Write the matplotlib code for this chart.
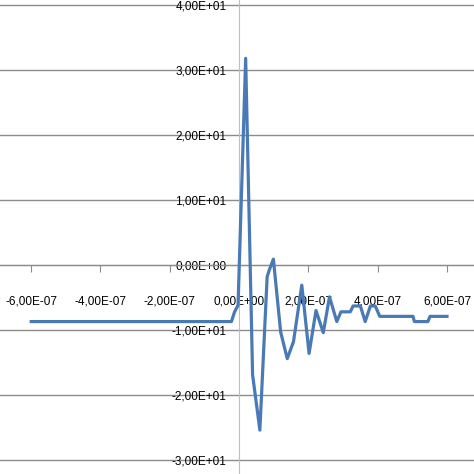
import matplotlib
matplotlib.use("Agg")
import matplotlib.pyplot as plt

t = [-6.0, -0.22, -0.13, -0.03, 0.19, 0.39, 0.60, 0.81, 0.87, 0.99, 1.20, 1.39, 1.57, 1.81,
     2.02, 2.22, 2.43, 2.61, 2.82, 2.94, 3.21, 3.29, 3.50, 3.64, 3.79, 3.93, 4.06, 5.02,
     5.06, 5.45, 5.51, 6.0]
v = [-8.7, -8.7, -7.2, -6.2, 31.8, -16.9, -25.4, -1.8, -0.8, 0.9, -10.3, -14.4, -11.8, -3.1,
     -13.6, -7.0, -10.4, -4.9, -8.7, -7.2, -7.2, -6.3, -6.3, -8.7, -6.3, -6.3, -7.9, -7.9,
     -8.7, -8.7, -7.9, -7.9]
x_ticks = [-6, -4, -2, 0, 2, 4, 6]
x_labels = ["-6,00E-07", "-4,00E-07", "-2,00E-07", "0,00E+00", "2,00E-07", "4,00E-07", "6,00E-07"]
y_ticks = [-30, -20, -10, 0, 10, 20, 30, 40]
y_labels = ["-3,00E+01", "-2,00E+01", "-1,00E+01", "0,00E+00", "1,00E+01", "2,00E+01", "3,00E+01", "4,00E+01"]

plt.rcParams['font.family'] = ['Liberation Sans', 'DejaVu Sans']
fig = plt.figure(figsize=(4.74, 4.74), dpi=100)
ax = fig.add_axes([0, 0, 1, 1])
ax.plot([x * 1e-7 for x in t], v, color='#4a7ab5', lw=2.3, zorder=3)
ax.set_xlim(-6.9e-7, 6.78e-7)
ax.set_ylim(-32.15, 40.77)
ax.set_xticks([x * 1e-7 for x in x_ticks])
ax.set_xticklabels(x_labels)
ax.set_yticks(y_ticks)
ax.set_yticklabels(y_labels)
for s in ['top', 'right']:
    ax.spines[s].set_visible(False)
ax.spines['left'].set_position(('data', 0))
ax.spines['bottom'].set_position(('data', 0))
ax.spines['left'].set_color('#bfbfbf')
ax.spines['bottom'].set_color('#8c8c8c')
ax.yaxis.grid(True, color='#8c8c8c', lw=1)
ax.tick_params(axis='y', length=0, labelsize=8.5, pad=9)
ax.tick_params(axis='x', length=5, color='#8c8c8c', labelsize=8.5, pad=17)
ax.set_axisbelow(True)
fig.savefig('out.png', dpi=100)
